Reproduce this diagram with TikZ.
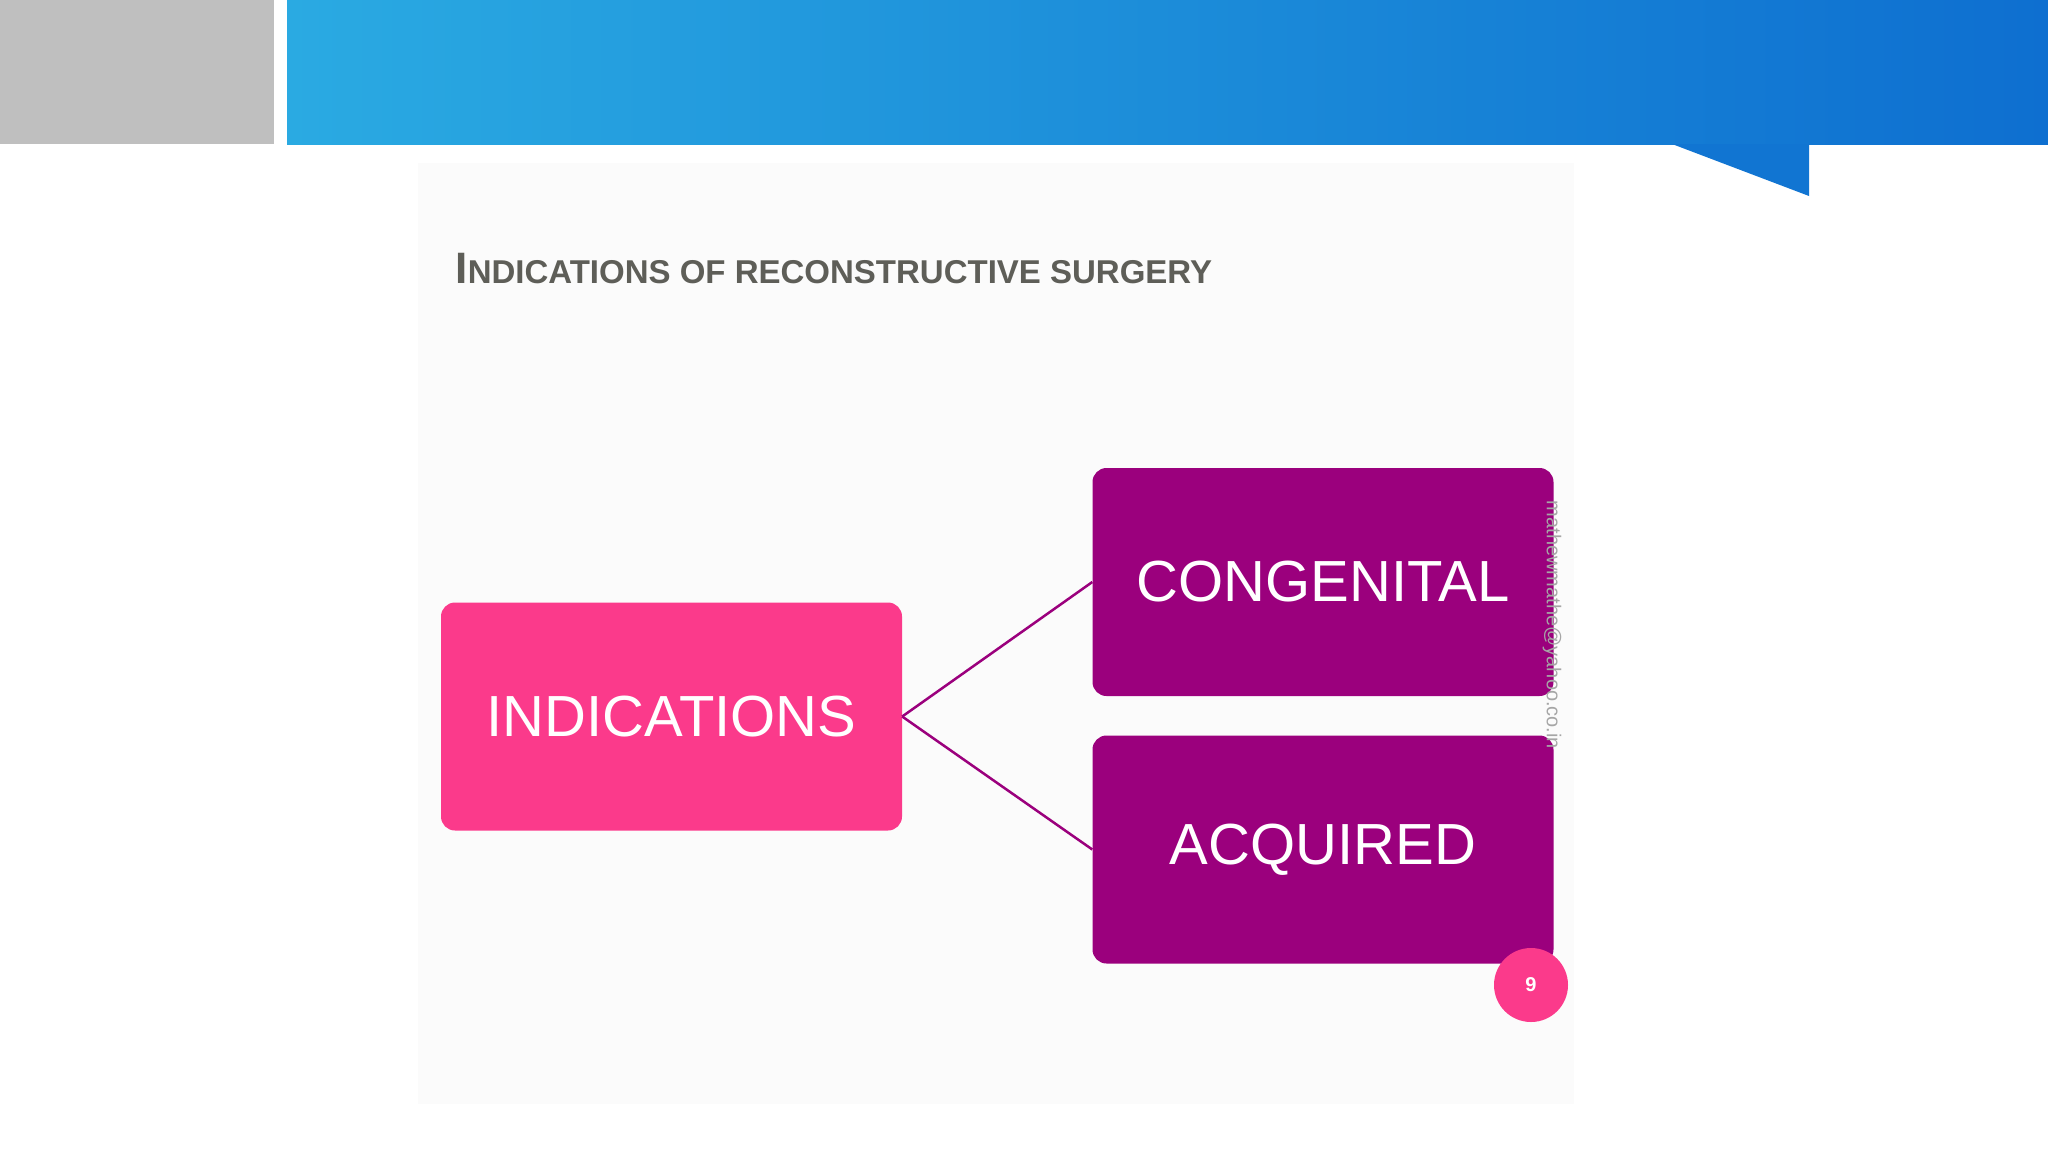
\documentclass[tikz,border=0pt]{standalone}
\usepackage{fontspec}
\setmainfont{Liberation Sans}
\definecolor{pinkc}{HTML}{FB3A8B}
\definecolor{purp}{HTML}{9B007D}
\definecolor{blueL}{HTML}{2AAAE2}
\definecolor{blueD}{HTML}{0E6FD0}
\definecolor{titleg}{HTML}{5E5E58}
\begin{document}
\begin{tikzpicture}[x=1pt,y=-1pt,
  box/.style={rounded corners=14pt,minimum width=461pt,minimum height=228pt,text=white,inner sep=0pt,font=\fontsize{58}{60}\selectfont},
  link/.style={purp,line width=2.5pt}]
\useasboundingbox (0,0) rectangle (2048,1152);
\fill[white] (0,0) rectangle (2048,1152);
\fill[gray!3] (418,163) rectangle (1574,1104);
\fill[gray!50] (0,0) rectangle (274,144);
\shade[left color=blueL,right color=blueD] (287,0) rectangle (2048,144);
\fill[blueD!90!blueL] (1672,144) -- (1809,196) -- (1809,144) -- cycle;
\node[anchor=base west,text=titleg,font=\bfseries] (title) at (452,283)
  {\fontsize{44}{44}\selectfont I\fontsize{33}{33}\selectfont NDICATIONS OF RECONSTRUCTIVE SURGERY};
\node[box,fill=pinkc] (ind) at (671.5,716.5) {INDICATIONS};
\node[box,fill=purp] (con) at (1323,582) {CONGENITAL};
\node[box,fill=purp] (acq) at (1323,849.5) {ACQUIRED};
\draw[link] (ind.east) -- (con.west);
\draw[link] (ind.east) -- (acq.west);
\node[circle,fill=pinkc,minimum size=74pt,text=white,font=\bfseries\fontsize{20}{20}\selectfont] (pg) at (1531,985) {9};
\node[rotate=-90,text=gray!70,font=\fontsize{20}{20}\selectfont] (mail) at (1552,625) {mathewmathe@yahoo.co.in};
\end{tikzpicture}
\end{document}
